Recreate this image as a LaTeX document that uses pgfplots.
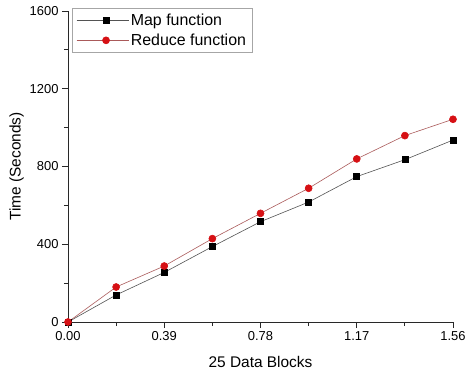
\documentclass[border=0pt]{standalone}
\usepackage{pgfplots}
\pgfplotsset{compat=1.18}
\usepackage{fontspec}
\setmainfont{Liberation Sans}
\usetikzlibrary{calc}
\definecolor{redmark}{RGB}{214,16,20}
\definecolor{redline}{RGB}{170,90,90}
\definecolor{axisgray}{RGB}{40,40,40}
\begin{document}
\begin{tikzpicture}
\begin{axis}[
  scale only axis,
  width=385bp, height=311bp,
  xmin=0, xmax=1.56, ymin=0, ymax=1600,
  axis x line*=bottom, axis y line*=left,
  axis line style={axisgray, line width=0.9bp},
  xtick={0,0.39,0.78,1.17,1.56},
  xticklabels={0.00,0.39,0.78,1.17,1.56},
  ytick={0,400,800,1200,1600},
  yticklabel style={/pgf/number format/1000 sep={}},
  minor xtick={0.195,0.585,0.975,1.365},
  minor ytick={200,600,1000,1400},
  tick align=outside,
  major tick length=6bp, minor tick length=4bp,
  tick style={axisgray, line width=0.8bp},
  ticklabel style={font=\fontsize{13}{15}\selectfont},
  /pgf/number format/assume math mode=true,
  xlabel={25 Data Blocks}, ylabel={Time (Seconds)},
  label style={font=\fontsize{15.5}{18}\selectfont},
  xlabel style={yshift=-9bp},
  ylabel style={yshift=-1bp},
  legend style={at={(rel axis cs:0.01,1.01)}, anchor=north west,
    draw=gray!70, line width=0.8bp, font=\fontsize{16}{19}\selectfont,
    legend cell align=left, inner xsep=4bp, inner ysep=3.5bp, row sep=3bp},
  legend image code/.code={
    \path (-12bp,0bp) -- (40bp,0bp);
    \draw[gray!70, line width=0.6bp] (0bp,0bp) -- (35bp,0bp);
    \draw[mark repeat=2,mark phase=2,#1] plot coordinates {(0bp,0bp) (17.5bp,0bp) (35bp,0bp)};
  },
  clip=false,
]
\addplot[color=axisgray!80, line width=0.6bp, mark=square*, mark size=3bp, mark options={black, fill=black}]
  coordinates {(0,0) (0.195,139) (0.39,255) (0.585,388) (0.78,516) (0.975,617) (1.17,748) (1.365,835) (1.56,936)};
\addlegendentry{Map function}
\addplot[color=redline, line width=0.6bp, mark=*, mark size=3.5bp, mark options={redmark, fill=redmark}]
  coordinates {(0,0) (0.195,180) (0.39,288) (0.585,429) (0.78,559) (0.975,688) (1.17,839) (1.365,959) (1.56,1043)};
\addlegendentry{Reduce function}
\end{axis}
\pgfresetboundingbox
\path[use as bounding box] ($(current axis.south west)+(-68bp,-59bp)$) rectangle ($(current axis.north east)+(21bp,11bp)$);
\end{tikzpicture}
\end{document}
